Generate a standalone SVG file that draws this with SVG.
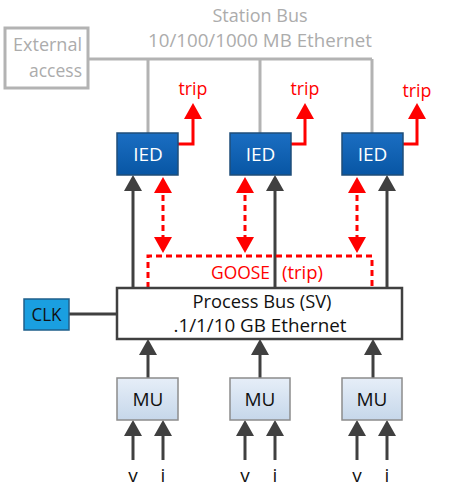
<svg xmlns="http://www.w3.org/2000/svg" width="474" height="500" viewBox="0 0 474 500">
<defs>
<style>
.t{font-family:"Open Sans","Noto Sans","Liberation Sans",sans-serif;}
.grey{stroke:#b3b3b3;stroke-width:3;fill:none;}
.blk{stroke:#404040;stroke-width:3;fill:none;}
.red{stroke:#ff0000;stroke-width:3;fill:none;}
.dash{stroke:#ff0000;stroke-width:3;fill:none;stroke-dasharray:6,4;}
.ied{fill:url(#gIed);stroke:#1f4e79;stroke-width:1.5;}
.mu{fill:url(#gMu);stroke:#8c8c8c;stroke-width:1.5;}
</style>
<linearGradient id="gIed" x1="0" y1="0" x2="0" y2="1"><stop offset="0" stop-color="#1b6ec2"/><stop offset="1" stop-color="#0856a4"/></linearGradient>
<linearGradient id="gMu" x1="0" y1="0" x2="0" y2="1"><stop offset="0" stop-color="#e6eef8"/><stop offset="1" stop-color="#c6d7ea"/></linearGradient>
<marker id="aB" viewBox="0 0 16 18" refX="8" refY="9" markerWidth="16" markerHeight="18" markerUnits="userSpaceOnUse" orient="auto-start-reverse"><path d="M0,0 L16,9 L0,18 z" fill="#404040"/></marker>
<marker id="aR" viewBox="0 0 16 18" refX="8" refY="9" markerWidth="16" markerHeight="18" markerUnits="userSpaceOnUse" orient="auto-start-reverse"><path d="M0,0 L16,9 L0,18 z" fill="#ff0000"/></marker>
</defs>

<g id="station-bus-label" class="t" fill="#acacac" text-anchor="middle" font-size="19">
<text x="260" y="22" textLength="95" lengthAdjust="spacingAndGlyphs">Station Bus</text>
<text x="260" y="47" textLength="224" lengthAdjust="spacingAndGlyphs">10/100/1000 MB Ethernet</text>
</g>

<g id="external-access">
<rect x="5" y="28" width="83" height="60" fill="#fff" stroke="#b3b3b3" stroke-width="3"/>
<text class="t" x="82" y="51" text-anchor="end" font-size="19" fill="#acacac" textLength="69" lengthAdjust="spacingAndGlyphs">External</text>
<text class="t" x="82" y="77" text-anchor="end" font-size="19" fill="#acacac" textLength="53" lengthAdjust="spacingAndGlyphs">access</text>
</g>

<g id="connectors">
<path class="grey" d="M88,59 H372 M148,59 V133 M260,59 V133 M372,59 V133"/>
<path class="red" d="M178,144 H193 V111" marker-end="url(#aR)"/>
<path class="red" d="M291,144 H305 V111" marker-end="url(#aR)"/>
<path class="red" d="M402,144 H417 V111" marker-end="url(#aR)"/>
<path class="blk" d="M133,288 V183" marker-end="url(#aB)"/>
<path class="blk" d="M275,288 V183" marker-end="url(#aB)"/>
<path class="blk" d="M387,288 V183" marker-end="url(#aB)"/>
<path class="dash" d="M163,185 V245" marker-start="url(#aR)" marker-end="url(#aR)"/>
<path class="dash" d="M245,185 V245" marker-start="url(#aR)" marker-end="url(#aR)"/>
<path class="dash" d="M357,185 V245" marker-start="url(#aR)" marker-end="url(#aR)"/>
<path class="dash" d="M148,288 V256 H372 V288"/>
<path class="blk" d="M69,314 H117"/>
<path class="blk" d="M148,378 V347" marker-end="url(#aB)"/>
<path class="blk" d="M260,378 V347" marker-end="url(#aB)"/>
<path class="blk" d="M373,378 V347" marker-end="url(#aB)"/>
<path class="blk" d="M133,460 V428" marker-end="url(#aB)"/>
<path class="blk" d="M163,460 V428" marker-end="url(#aB)"/>
<path class="blk" d="M245,460 V428" marker-end="url(#aB)"/>
<path class="blk" d="M275,460 V428" marker-end="url(#aB)"/>
<path class="blk" d="M357,460 V428" marker-end="url(#aB)"/>
<path class="blk" d="M387,460 V428" marker-end="url(#aB)"/>
</g>

<g id="trip-labels" class="t" fill="#ff0000" font-size="19" text-anchor="middle">
<text x="193" y="95" textLength="29" lengthAdjust="spacingAndGlyphs">trip</text>
<text x="305" y="95" textLength="29" lengthAdjust="spacingAndGlyphs">trip</text>
<text x="417" y="97" textLength="29" lengthAdjust="spacingAndGlyphs">trip</text>
</g>

<g id="ied1"><rect class="ied" x="117" y="133" width="61" height="42"/><text class="t" x="148" y="161" text-anchor="middle" font-size="19" fill="#fff">IED</text></g>
<g id="ied2"><rect class="ied" x="230" y="133" width="61" height="42"/><text class="t" x="260.5" y="161" text-anchor="middle" font-size="19" fill="#fff">IED</text></g>
<g id="ied3"><rect class="ied" x="342" y="133" width="61" height="42"/><text class="t" x="372.5" y="161" text-anchor="middle" font-size="19" fill="#fff">IED</text></g>

<g id="goose-label" class="t" font-size="19" fill="#ff0000">
<text x="211" y="279" textLength="59" lengthAdjust="spacingAndGlyphs">GOOSE</text>
<text x="282" y="279" textLength="41" lengthAdjust="spacingAndGlyphs">(trip)</text>
</g>

<g id="process-bus">
<rect x="117" y="288" width="285" height="51" fill="#fff" stroke="#404040" stroke-width="2.5"/>
<text class="t" x="262" y="308" text-anchor="middle" font-size="19" fill="#111" textLength="139" lengthAdjust="spacingAndGlyphs">Process Bus (SV)</text>
<text class="t" x="260" y="332" text-anchor="middle" font-size="19" fill="#111" textLength="173" lengthAdjust="spacingAndGlyphs">.1/1/10 GB Ethernet</text>
</g>

<g id="clk">
<rect x="24" y="299" width="45" height="31" fill="#1a9fe0" stroke="#1f5f8b" stroke-width="1.5"/>
<text class="t" x="46.5" y="321" text-anchor="middle" font-size="19" fill="#111" textLength="30" lengthAdjust="spacingAndGlyphs">CLK</text>
</g>

<g id="mu1"><rect class="mu" x="117" y="378" width="61" height="42"/><text class="t" x="148" y="406" text-anchor="middle" font-size="19" fill="#111">MU</text></g>
<g id="mu2"><rect class="mu" x="230" y="378" width="60" height="42"/><text class="t" x="260" y="406" text-anchor="middle" font-size="19" fill="#111">MU</text></g>
<g id="mu3"><rect class="mu" x="342" y="378" width="60" height="42"/><text class="t" x="372" y="406" text-anchor="middle" font-size="19" fill="#111">MU</text></g>

<g id="inputs" class="t" font-size="19" fill="#111" text-anchor="middle">
<text x="133" y="482">v</text><text x="163" y="482">i</text>
<text x="245" y="482">v</text><text x="275" y="482">i</text>
<text x="357" y="482">v</text><text x="387" y="482">i</text>
</g>
</svg>
